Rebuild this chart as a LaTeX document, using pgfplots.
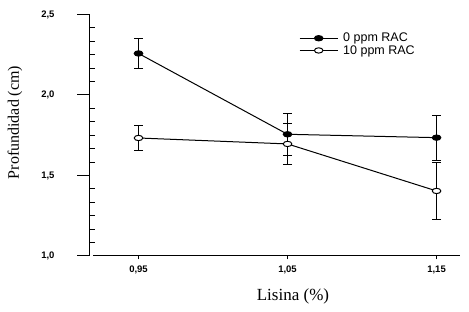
\documentclass[border=0pt]{standalone}
\usepackage{pgfplots}
\pgfplotsset{compat=1.18}
\usepackage{fontspec}
\setmainfont{Liberation Serif}
\newfontfamily\arial{Liberation Sans}
\pgfplotsset{
  common/.style={
    at={(93.5pt,56pt)}, anchor=south west,
    scale only axis, width=366pt, height=241.5pt,
    xmin=0.9198, xmax=1.1654, ymin=1, ymax=2.5,
    tick style={line width=1pt, black},
  },
  myleg/.style={legend image code/.code={\draw[mark repeat=2,mark phase=2] plot coordinates {(0pt,0pt) (19pt,0pt) (38pt,0pt)};}},
}
\begin{document}
\begin{tikzpicture}[x=1pt,y=1pt]
\useasboundingbox (0,0) rectangle (469,312);
% y major ticks and labels
\begin{axis}[common,
  axis x line=none, axis y line*=left, axis y line shift=4pt,
  axis line style={draw=none},
  ytick={1,1.5,2,2.5}, yticklabels={{1,0},{1,5},{2,0},{2,5}},
  tick align=outside, major tick length=12pt,
  yticklabel style={font=\arial\bfseries\fontsize{9.5}{10}\selectfont, xshift=-19.5pt},
]
\end{axis}
% y minor ticks (inside)
\begin{axis}[common,
  axis x line=none, axis y line*=left, axis y line shift=4pt,
  axis line style={draw=none},
  ytick={1.0833,1.1667,1.25,1.3333,1.4167,1.5833,1.6667,1.75,1.8333,1.9167,2.0833,2.1667,2.25,2.3333,2.4167},
  yticklabels={},
  tick align=inside, major tick length=5pt,
]
\end{axis}
% main axis
\begin{axis}[common,
  axis x line*=bottom, axis y line*=left,
  axis y line shift=4pt,
  axis line style={line width=1pt},
  xtick={0.95,1.05,1.15}, xticklabels={{0,95},{1,05},{1,15}},
  ytick=\empty,
  tick align=outside, major tick length=3.5pt,
  xticklabel style={font=\arial\bfseries\fontsize{9.5}{10}\selectfont, yshift=-2.5pt},
  xlabel={Lisina (\%)},
  xlabel style={font=\fontsize{17}{18}\selectfont, at={(axis description cs:0.545,-0.1685)}, anchor=center},
  ylabel={Profundidad (cm)},
  ylabel style={font=\fontsize{16}{17}\selectfont, at={(axis description cs:-0.2145,0.553)}, anchor=center},
  legend style={at={(axis description cs:0.5615,0.932)}, anchor=north west, draw=none, fill=none,
    font=\arial\fontsize{12.5}{13}\selectfont, row sep=-2pt, inner sep=0pt, nodes={inner xsep=5pt}},
  legend cell align=left,
  clip=false,
]
\addplot[black, line width=1pt, mark=*, mark size=4.3pt, mark options={fill=black, yscale=0.62}, myleg,
  error bars/.cd, y dir=both, y explicit,
  error bar style={line width=1pt},
  error mark options={rotate=90, black, mark size=4.5pt, line width=1pt}]
  coordinates {(0.95,2.258) +- (0,0.092) (1.05,1.756) +- (0,0.130) (1.15,1.735) +- (0,0.139)};
\addplot[black, line width=1pt, mark=*, mark size=4.3pt, mark options={fill=white, yscale=0.62}, myleg,
  error bars/.cd, y dir=both, y explicit,
  error bar style={line width=1pt},
  error mark options={rotate=90, black, mark size=4.5pt, line width=1pt}]
  coordinates {(0.95,1.733) +- (0,0.075) (1.05,1.696) +- (0,0.127) (1.15,1.404) +- (0,0.176)};
\legend{0 ppm RAC, 10 ppm RAC}
\end{axis}
\end{tikzpicture}
\end{document}
